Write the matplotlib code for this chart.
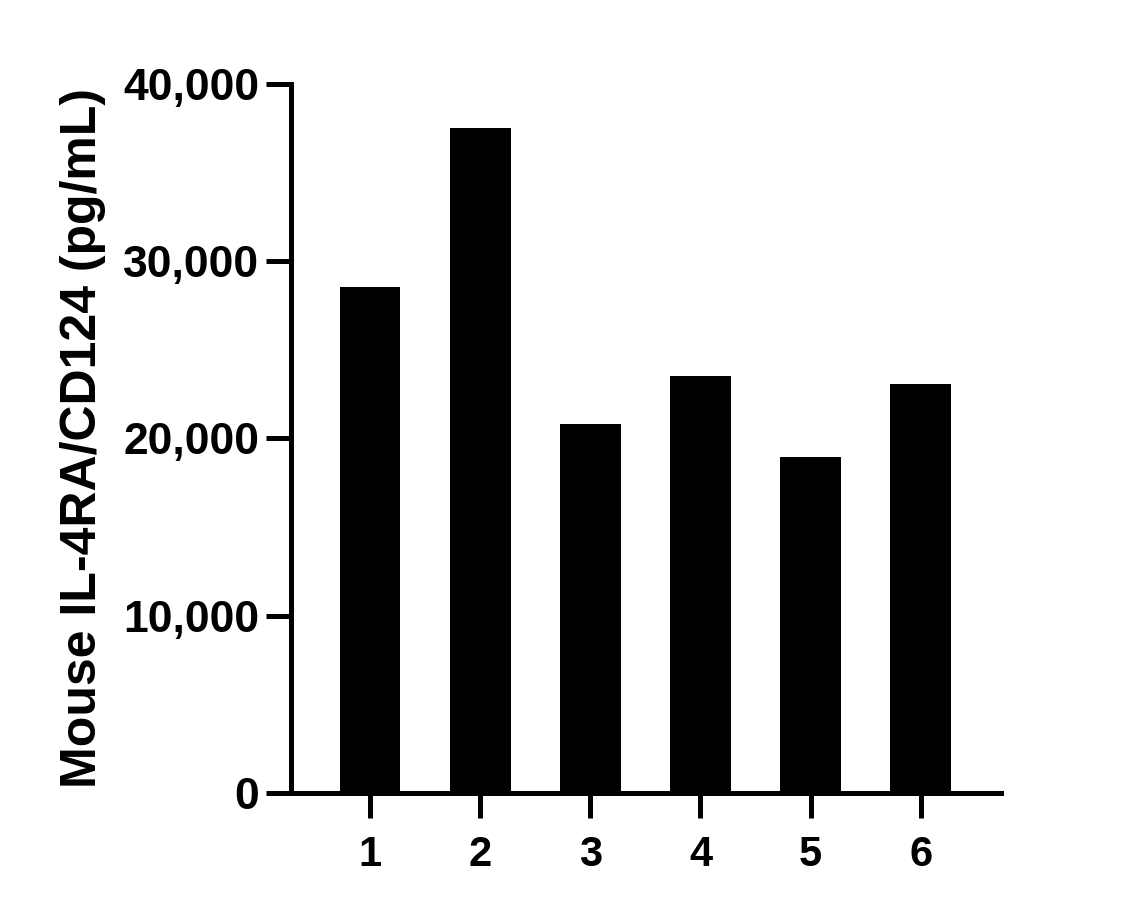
import matplotlib.pyplot as plt

# sample values
samples = ["1", "2", "3", "4", "5", "6"]
concentration = [28550, 37500, 20800, 23500, 18950, 23080]
yticks = [0, 10000, 20000, 30000, 40000]

plt.rcParams['font.family'] = ['Liberation Sans', 'DejaVu Sans']
plt.rcParams['font.weight'] = 'bold'

fig = plt.figure(figsize=(11.33, 9.10), dpi=100)
ax = fig.add_axes([0.2568, 0.1286, 0.6267, 0.7791])

x = list(range(1, len(samples) + 1))
ax.bar(x, concentration, width=0.55, color='black', edgecolor='black', linewidth=0)

ax.set_xlim(0.28, 6.73)
ax.set_ylim(0, 40000)
ax.set_xticks(x)
ax.set_xticklabels(samples)
ax.set_yticks(yticks)
ax.set_yticklabels([f"{v:,}" for v in yticks])

for side in ['top', 'right']:
    ax.spines[side].set_visible(False)
for side in ['left', 'bottom']:
    ax.spines[side].set_linewidth(3.6)
    ax.spines[side].set_capstyle('projecting')

ax.tick_params(axis='both', width=3.6, length=18, labelsize=32)
ax.tick_params(axis='y', pad=5)
ax.tick_params(axis='x', pad=12, labelsize=30)
ax.set_ylabel("Mouse IL-4RA/CD124 (pg/mL)", fontsize=36, fontweight='bold', labelpad=12)

fig.savefig("out.png", dpi=100)
